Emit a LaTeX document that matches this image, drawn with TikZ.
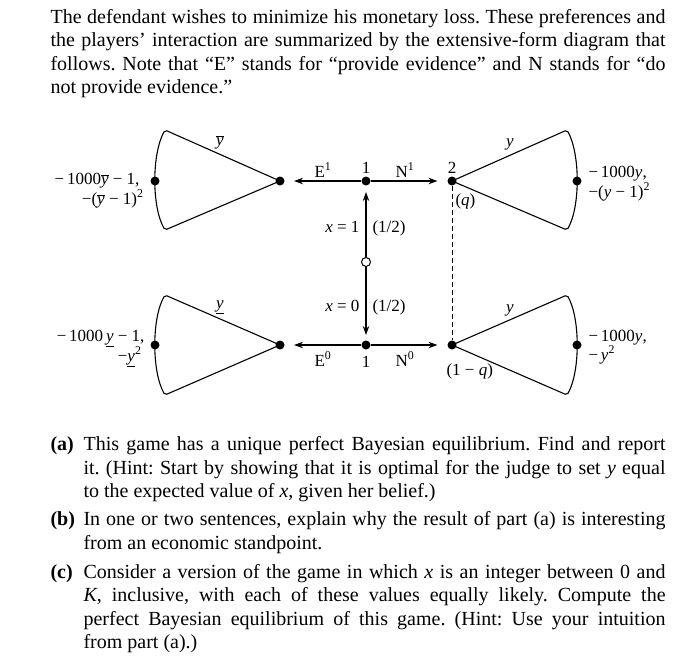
\documentclass[tikz,border=0pt]{standalone}
\usepackage{fontspec}
\setmainfont{Liberation Serif}
\usetikzlibrary{arrows.meta}
\frenchspacing
\newcommand\jl[1]{\hbox to 615pt{#1}}
\newcommand\jb[1]{\hbox to 582pt{#1}}
\newcommand\yb{$\overline{\mbox{\textit{y}}}$}
\newcommand\yu{$\underline{\mbox{\textit{y}}}$}
\tikzset{
  dot/.style={circle, fill=black, inner sep=0pt, minimum size=9pt},
  odot/.style={circle, draw=black, fill=white, inner sep=0pt, minimum size=9pt, line width=1pt},
  arr/.style={-{Stealth[length=9pt,width=6.5pt]}},
  lbl/.style={inner sep=0pt, font=\fontsize{17}{20}\selectfont},
  txt/.style={anchor=base west, inner sep=0pt, font=\fontsize{20}{23}\selectfont},
}
\begin{document}
\begin{tikzpicture}[x=1pt,y=-1pt, line width=1.1pt]
\useasboundingbox (0,0) rectangle (700,659);
% top paragraph
\node[txt] (p1) at (50,23.3) {\jl{The defendant wishes to minimize his monetary loss. These preferences and}};
\node[txt] (p2) at (50,46.7) {\jl{the players’ interaction are summarized by the extensive-form diagram that}};
\node[txt] (p3) at (50,70.7) {\jl{follows. Note that “E” stands for “provide evidence” and N stands for “do}};
\node[txt] (p4) at (50,93.3) {not provide evidence.”};
% tree nodes
\node[dot] (t1) at (366,181) {};
\node[dot] (te) at (280,181) {};
\node[dot] (t2) at (452,181) {};
\node[dot] (b1) at (366,345) {};
\node[dot] (be) at (280,345) {};
\node[dot] (b2) at (452,345) {};
\node[odot] (c) at (366,262) {};
\coordinate (tlu) at (165,130); \coordinate (tld) at (165,230);
\coordinate (tru) at (567,130); \coordinate (trd) at (567,230);
\coordinate (blu) at (165,295); \coordinate (bld) at (165,395);
\coordinate (bru) at (567,295); \coordinate (brd) at (567,395);
% triangles
\draw[rounded corners=2pt] (te.center) -- (tlu) .. controls (151.7,154) and (151.7,207) .. (tld) -- cycle;
\draw[rounded corners=2pt] (t2.center) -- (tru) .. controls (580.3,154) and (580.3,207) .. (trd) -- cycle;
\draw[rounded corners=2pt] (be.center) -- (blu) .. controls (151.7,318) and (151.7,372) .. (bld) -- cycle;
\draw[rounded corners=2pt] (b2.center) -- (bru) .. controls (580.3,318) and (580.3,372) .. (brd) -- cycle;
\node[dot] (ptl) at (155,181) {};
\node[dot] (ptr) at (577,181) {};
\node[dot] (pbl) at (155,345) {};
\node[dot] (pbr) at (577,345) {};
% arrows
\draw[arr, shorten >=9pt] (t1) -- (te);
\draw[arr, shorten >=9.5pt] (t1) -- (t2);
\draw[arr, shorten >=6pt] (c) -- (t1);
\draw[arr, shorten >=5pt] (c) -- (b1);
\draw[arr, shorten >=9pt] (b1) -- (be);
\draw[arr, shorten >=9.5pt] (b1) -- (b2);
\draw[line width=0.9pt, dash pattern=on 4.5pt off 3.5pt] (t2) -- (b2);
% labels
\node[lbl, anchor=base] (le1) at (323,177) {E\textsuperscript{1}};
\node[lbl, anchor=base] (l1t) at (366,173) {1};
\node[lbl, anchor=base] (ln1) at (405,177) {N\textsuperscript{1}};
\node[lbl, anchor=base] (l2) at (452,173) {2};
\node[lbl, anchor=base west] (lq) at (455,205) {(\textit{q})};
\node[lbl, anchor=base east] (lx1) at (360,232) {\textit{x} = 1};
\node[lbl, anchor=base west] (lh1) at (372,232) {(1/2)};
\node[lbl, anchor=base east] (lx0) at (360,311) {\textit{x} = 0};
\node[lbl, anchor=base west] (lh0) at (372,311) {(1/2)};
\node[lbl, anchor=base] (le0) at (323,366) {E\textsuperscript{0}};
\node[lbl, anchor=base] (l1b) at (366,367) {1};
\node[lbl, anchor=base] (ln0) at (405,366) {N\textsuperscript{0}};
\node[lbl, anchor=base west] (lq1) at (446,375) {(1 − \textit{q})};
\node[lbl, anchor=base] (lyb) at (220,145) {\yb};
\node[lbl, anchor=base] (lyu) at (220,308) {\yu};
\node[lbl, anchor=base] (lyt) at (510,146) {\textit{y}};
\node[lbl, anchor=base] (lyl) at (510,312) {\textit{y}};
% payoffs
\node[lbl, anchor=base east] (a1) at (140,184) {−\,1000\yb\ − 1,};
\node[lbl, anchor=base east] (a2) at (144,204) {−(\yb\ − 1)\textsuperscript{2}};
\node[lbl, anchor=base east] (b1a) at (145,341) {−\,1000\,\yu\ − 1,};
\node[lbl, anchor=base east] (b2a) at (142,361) {−\yu\textsuperscript{2}};
\node[lbl, anchor=base west] (c1) at (588,177) {−\,1000\textit{y},};
\node[lbl, anchor=base west] (c2) at (588,197) {−(\textit{y} − 1)\textsuperscript{2}};
\node[lbl, anchor=base west] (d1) at (588,341) {−\,1000\textit{y},};
\node[lbl, anchor=base west] (d2) at (588,360) {−\,\textit{y}\textsuperscript{2}};
% bottom items
\node[txt] (qa) at (50,450.7) {\textbf{(a)}};
\node[txt] (qa1) at (83,450.7) {\jb{This game has a unique perfect Bayesian equilibrium. Find and report}};
\node[txt] (qa2) at (83,474) {\jb{it. (Hint: Start by showing that it is optimal for the judge to set \textit{y} equal}};
\node[txt] (qa3) at (83,497.5) {to the expected value of \textit{x}, given her belief.)};
\node[txt] (qb) at (50,525.7) {\textbf{(b)}};
\node[txt] (qb1) at (83,525.7) {\jb{In one or two sentences, explain why the result of part (a) is interesting}};
\node[txt] (qb2) at (83,549) {from an economic standpoint.};
\node[txt] (qc) at (50,578) {\textbf{(c)}};
\node[txt] (qc1) at (83,578) {\jb{Consider a version of the game in which \textit{x} is an integer between 0 and}};
\node[txt] (qc2) at (83,601.5) {\jb{\textit{K}, inclusive, with each of these values equally likely. Compute the}};
\node[txt] (qc3) at (83,625) {\jb{perfect Bayesian equilibrium of this game. (Hint: Use your intuition}};
\node[txt] (qc4) at (83,648.5) {from part (a).)};
\end{tikzpicture}
\end{document}
